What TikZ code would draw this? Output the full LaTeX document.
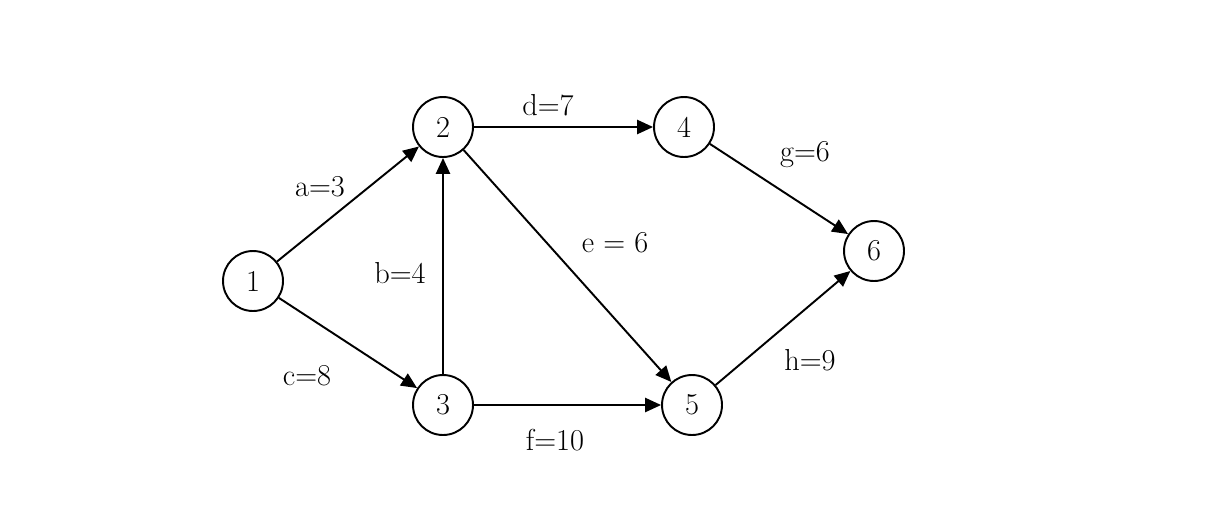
\documentclass[tikz,border=0pt]{standalone}
\usetikzlibrary{arrows.meta}
\begin{document}
\begin{tikzpicture}[x=0.02cm,y=-0.02cm,
  v/.style={circle,draw,line width=1.1pt,minimum size=1.2cm,inner sep=0pt,font=\LARGE},
  e/.style={line width=1.1pt,-{Triangle[length=9pt,width=8pt]}},
  lb/.style={font=\LARGE}]
\useasboundingbox (0,0) rectangle (1216,531);
\node[v] (n1) at (253,281) {1};
\node[v] (n2) at (443,127) {2};
\node[v] (n3) at (443,405) {3};
\node[v] (n4) at (684,127) {4};
\node[v] (n5) at (692,405) {5};
\node[v] (n6) at (874,251) {6};
\draw[e] (n1) -- (n2);
\draw[e] (n1) -- (n3);
\draw[e] (n3) -- (n2);
\draw[e] (n2) -- (n4);
\draw[e] (n2) -- (n5);
\draw[e] (n3) -- (n5);
\draw[e] (n4) -- (n6);
\draw[e] (n5) -- (n6);
\node[lb] (la) at (320,187) {a=3};
\node[lb] (lb4) at (400,273) {b=4};
\node[lb] (lc) at (307,376) {c=8};
\node[lb] (ld) at (548,105) {d=7};
\node[lb] (le) at (615,243) {e = 6};
\node[lb] (lf) at (555,440) {f=10};
\node[lb] (lg) at (805,155) {g=6};
\node[lb] (lh) at (810,360) {h=9};
\end{tikzpicture}
\end{document}
